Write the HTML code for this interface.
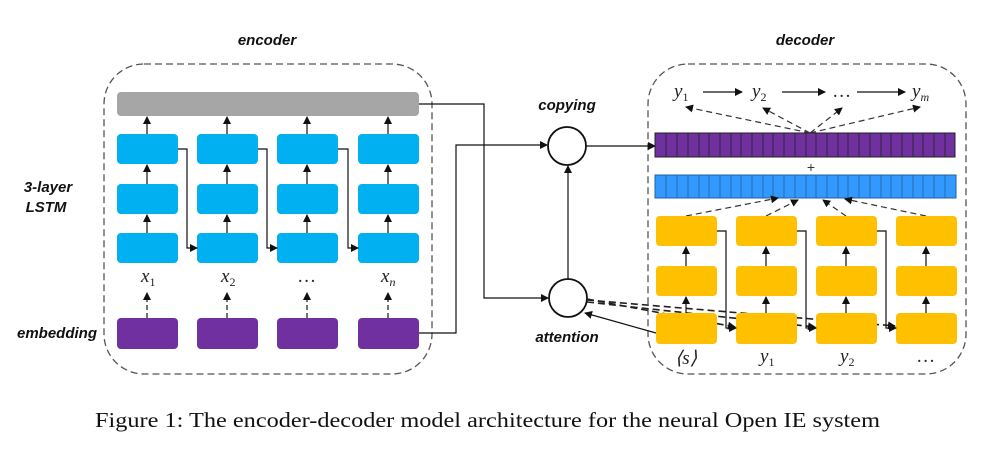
<!DOCTYPE html>
<html><head><meta charset="utf-8"><style>
body{margin:0;background:#fff;}
svg{display:block;}
.t{font-family:"Liberation Sans",sans-serif;font-style:italic;font-weight:bold;font-size:15px;fill:#111;}
.m{font-family:"Liberation Serif",serif;font-style:italic;font-size:19px;fill:#222;}
</style></head><body>
<svg width="994" height="451" viewBox="0 0 994 451" xmlns="http://www.w3.org/2000/svg">
<defs>
<marker id="a" markerWidth="8" markerHeight="8" refX="7" refY="4" orient="auto" markerUnits="userSpaceOnUse"><path d="M0,0 L8,4 L0,8z" fill="#111"/></marker>
</defs>
<text class="t" x="267" y="45" text-anchor="middle">encoder</text>
<text class="t" x="805" y="45" text-anchor="middle">decoder</text>
<text class="t" x="48" y="192" text-anchor="middle">3-layer</text>
<text class="t" x="46" y="212" text-anchor="middle">LSTM</text>
<text class="t" x="57" y="338" text-anchor="middle">embedding</text>
<text class="t" x="567" y="110" text-anchor="middle">copying</text>
<text class="t" x="567" y="342" text-anchor="middle">attention</text>
<rect x="104" y="64" width="328" height="310" rx="40" fill="none" stroke="#555" stroke-width="1.3" stroke-dasharray="7,4"/>
<rect x="648" y="64" width="318" height="310" rx="40" fill="none" stroke="#555" stroke-width="1.3" stroke-dasharray="7,4"/>
<rect x="117" y="92" width="302" height="24" rx="4" fill="#a6a6a6"/>
<g fill="#00b0f0">
<rect x="117" y="134" width="61" height="30" rx="4"/><rect x="197" y="134" width="61" height="30" rx="4"/><rect x="277" y="134" width="61" height="30" rx="4"/><rect x="358" y="134" width="61" height="30" rx="4"/>
<rect x="117" y="184" width="61" height="30" rx="4"/><rect x="197" y="184" width="61" height="30" rx="4"/><rect x="277" y="184" width="61" height="30" rx="4"/><rect x="358" y="184" width="61" height="30" rx="4"/>
<rect x="117" y="233" width="61" height="30" rx="4"/><rect x="197" y="233" width="61" height="30" rx="4"/><rect x="277" y="233" width="61" height="30" rx="4"/><rect x="358" y="233" width="61" height="30" rx="4"/>
</g>
<g fill="#7030a0">
<rect x="117" y="318" width="61" height="31" rx="4"/><rect x="197" y="318" width="61" height="31" rx="4"/><rect x="277" y="318" width="61" height="31" rx="4"/><rect x="358" y="318" width="61" height="31" rx="4"/>
</g>
<g stroke="#111" stroke-width="1.2" fill="none" marker-end="url(#a)">
<line x1="147" y1="134" x2="147" y2="117"/><line x1="227" y1="134" x2="227" y2="117"/><line x1="307" y1="134" x2="307" y2="117"/><line x1="388" y1="134" x2="388" y2="117"/>
<line x1="147" y1="184" x2="147" y2="165"/><line x1="227" y1="184" x2="227" y2="165"/><line x1="307" y1="184" x2="307" y2="165"/><line x1="388" y1="184" x2="388" y2="165"/>
<line x1="147" y1="233" x2="147" y2="215"/><line x1="227" y1="233" x2="227" y2="215"/><line x1="307" y1="233" x2="307" y2="215"/><line x1="388" y1="233" x2="388" y2="215"/>
<polyline points="178,149 187,149 187,248 197,248"/><polyline points="258,149 267,149 267,248 277,248"/><polyline points="338,149 348,149 348,248 358,248"/>
</g>
<g stroke="#111" stroke-width="1.2" fill="none" stroke-dasharray="5,3" marker-end="url(#a)">
<line x1="147" y1="318" x2="147" y2="293"/><line x1="227" y1="318" x2="227" y2="293"/><line x1="307" y1="318" x2="307" y2="293"/><line x1="388" y1="318" x2="388" y2="293"/>
</g>
<text class="m" x="141" y="282">x<tspan font-size="12" font-style="normal" dy="4">1</tspan></text>
<text class="m" x="221" y="282">x<tspan font-size="12" font-style="normal" dy="4">2</tspan></text>
<text class="m" x="307" y="282" text-anchor="middle" font-style="normal" font-size="14">…</text>
<text class="m" x="381" y="282">x<tspan font-size="12" dy="4">n</tspan></text>
<circle cx="567" cy="146" r="19" fill="#fff" stroke="#111" stroke-width="1.8"/>
<circle cx="568" cy="298" r="19" fill="#fff" stroke="#111" stroke-width="1.8"/>
<g stroke="#111" stroke-width="1.2" fill="none" marker-end="url(#a)">
<polyline points="419,104 484,104 484,298 548,298"/>
<polyline points="419,333 456,333 456,145 547,145"/>
<line x1="568" y1="279" x2="568" y2="166"/>
<line x1="586" y1="146" x2="655" y2="146"/>
<line x1="656" y1="333" x2="585" y2="313"/>
</g>
<g stroke="#222" stroke-width="1.6" fill="none" stroke-dasharray="7,4" marker-end="url(#a)">
<line x1="587" y1="299" x2="735" y2="327"/>
<line x1="587" y1="300" x2="895" y2="326"/>
<line x1="587" y1="302" x2="815" y2="327"/>
</g>
<rect x="655" y="133" width="300" height="24" fill="#7030a0" stroke="#222" stroke-width="1"/>
<rect x="655" y="175" width="301" height="23" fill="#3399ff" stroke="#2060a0" stroke-width="1"/>
<g stroke="#222" stroke-width="0.8">
<path d="M666,133v24M677,133v24M688,133v24M699,133v24M709,133v24M720,133v24M731,133v24M741,133v24M752,133v24M763,133v24M773,133v24M784,133v24M795,133v24M806,133v24M816,133v24M827,133v24M838,133v24M848,133v24M859,133v24M870,133v24M881,133v24M891,133v24M902,133v24M913,133v24M923,133v24M934,133v24M945,133v24"/>
</g>
<g stroke="#2060a0" stroke-width="0.8">
<path d="M666,175v23M677,175v23M688,175v23M699,175v23M709,175v23M720,175v23M731,175v23M741,175v23M752,175v23M763,175v23M773,175v23M784,175v23M795,175v23M806,175v23M816,175v23M827,175v23M838,175v23M848,175v23M859,175v23M870,175v23M881,175v23M891,175v23M902,175v23M913,175v23M923,175v23M934,175v23M945,175v23"/>
</g>
<text x="811" y="172" font-family="Liberation Sans,sans-serif" font-size="14" text-anchor="middle" fill="#333">+</text>
<text class="m" x="674" y="97">y<tspan font-size="12" font-style="normal" dy="4">1</tspan></text>
<text class="m" x="752" y="97">y<tspan font-size="12" font-style="normal" dy="4">2</tspan></text>
<text class="m" x="842" y="97" text-anchor="middle" font-style="normal" font-size="14">…</text>
<text class="m" x="912" y="97">y<tspan font-size="12" dy="4">m</tspan></text>
<g stroke="#111" stroke-width="1.2" fill="none" marker-end="url(#a)">
<line x1="703" y1="92" x2="742" y2="92"/><line x1="782" y1="92" x2="825" y2="92"/><line x1="857" y1="92" x2="905" y2="92"/>
</g>
<g stroke="#333" stroke-width="1.2" fill="none" stroke-dasharray="6,4" marker-end="url(#a)">
<line x1="810" y1="133" x2="686" y2="107"/><line x1="810" y1="133" x2="763" y2="108"/><line x1="810" y1="133" x2="842" y2="108"/><line x1="810" y1="133" x2="920" y2="107"/>
<line x1="686" y1="216" x2="778" y2="198"/><line x1="766" y1="216" x2="798" y2="200"/><line x1="846" y1="216" x2="823" y2="200"/><line x1="926" y1="216" x2="845" y2="199"/>
</g>
<g fill="#ffc000">
<rect x="656" y="216" width="61" height="30" rx="4"/><rect x="736" y="216" width="61" height="30" rx="4"/><rect x="816" y="216" width="61" height="30" rx="4"/><rect x="896" y="216" width="61" height="30" rx="4"/>
<rect x="656" y="266" width="61" height="30" rx="4"/><rect x="736" y="266" width="61" height="30" rx="4"/><rect x="816" y="266" width="61" height="30" rx="4"/><rect x="896" y="266" width="61" height="30" rx="4"/>
<rect x="656" y="313" width="61" height="31" rx="4"/><rect x="736" y="313" width="61" height="31" rx="4"/><rect x="816" y="313" width="61" height="31" rx="4"/><rect x="896" y="313" width="61" height="31" rx="4"/>
</g>
<g stroke="#111" stroke-width="1.2" fill="none" marker-end="url(#a)">
<line x1="686" y1="266" x2="686" y2="247"/><line x1="766" y1="266" x2="766" y2="247"/><line x1="846" y1="266" x2="846" y2="247"/><line x1="926" y1="266" x2="926" y2="247"/>
<line x1="686" y1="313" x2="686" y2="297"/><line x1="766" y1="313" x2="766" y2="297"/><line x1="846" y1="313" x2="846" y2="297"/><line x1="926" y1="313" x2="926" y2="297"/>
<polyline points="717,231 726,231 726,328 736,328"/><polyline points="797,231 806,231 806,328 816,328"/><polyline points="877,231 886,231 886,328 896,328"/>
</g>
<text class="m" x="686" y="364" text-anchor="middle" font-style="normal">⟨<tspan font-style="italic">s</tspan>⟩</text>
<text class="m" x="760" y="362">y<tspan font-size="12" font-style="normal" dy="4">1</tspan></text>
<text class="m" x="840" y="362">y<tspan font-size="12" font-style="normal" dy="4">2</tspan></text>
<text class="m" x="926" y="362" text-anchor="middle" font-style="normal" font-size="14">…</text>
<text x="95" y="427" textLength="785" lengthAdjust="spacingAndGlyphs" font-family="Liberation Serif,serif" font-size="21" fill="#111">Figure 1: The encoder-decoder model architecture for the neural Open IE system</text>
</svg>
</body></html>
